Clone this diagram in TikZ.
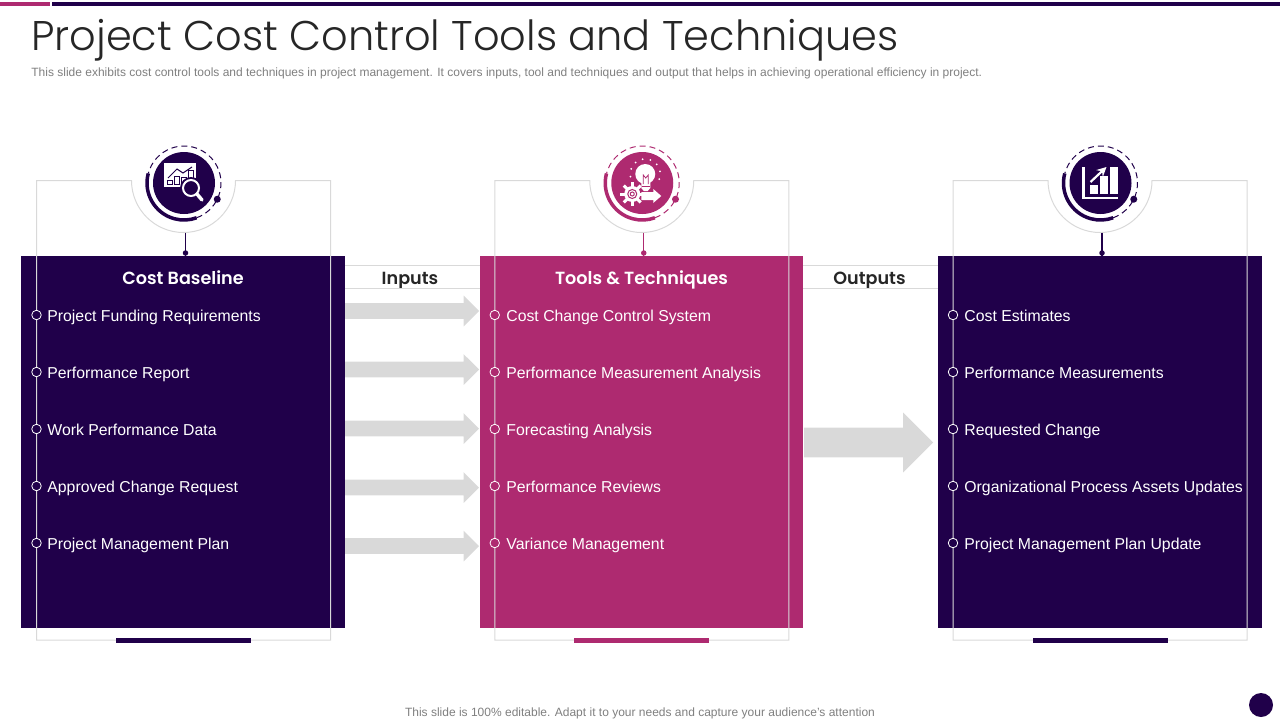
\documentclass[tikz,border=0pt]{standalone}
\usepackage{fontspec}
\setmainfont{Liberation Sans}
\newfontfamily\headfont{Poppins SemiBold}
\newfontfamily\titlefont{Poppins Light}
\usetikzlibrary{shapes.arrows}
\definecolor{darkpanel}{HTML}{20004A}
\definecolor{pinkpanel}{HTML}{AE2A70}
\definecolor{framegray}{HTML}{D9D9D9}
\definecolor{arrowgray}{HTML}{D9D9D9}
\definecolor{titleink}{HTML}{262626}
\definecolor{noteink}{HTML}{7F7F7F}
\tikzset{
  panel/.style={minimum width=162pt,minimum height=186pt,inner sep=0pt,outer sep=0pt},
  head/.style={font=\headfont\fontsize{8.8}{12}\selectfont,anchor=base},
  item/.style={font=\fontsize{7.9}{10}\selectfont,text=white,anchor=base west,inner sep=0pt},
  ring/.style={circle,draw=white,line width=0.4pt,minimum size=4.75pt,inner sep=0pt},
  note/.style={font=\fontsize{6}{8}\selectfont,text=noteink,inner sep=0pt},
  blockarrow/.style={single arrow,fill=arrowgray,anchor=tail,inner sep=0pt,single arrow head indent=0pt,outer sep=0pt},
  smallarrow/.style={blockarrow,inner ysep=3.75pt,single arrow head extend=3.75pt,minimum height=67pt},
  bigarrow/.style={blockarrow,inner ysep=7.25pt,single arrow head extend=7.5pt,minimum height=64.5pt},
  badge/.style={circle,minimum size=31pt,inner sep=0pt},
}
\begin{document}
\begin{tikzpicture}[x=0.5pt,y=0.5pt]
\path[use as bounding box] (0,0) rectangle (1280,720);
\fill[pinkpanel] (0,714) rectangle (50,718);
\fill[darkpanel] (52,714) rectangle (1280,718);
\node[anchor=base west,inner sep=0pt,text=titleink,font=\titlefont\fontsize{20.75}{26}\selectfont] (title) at (31,670) {Project Cost Control Tools and Techniques};
\node[note,anchor=base west] (subtitle) at (31,644) {This slide exhibits cost control tools and techniques in project management. It covers inputs, tool and techniques and output that helps in achieving operational efficiency in project.};
\node[note] (footer) at (640,6.5) {This slide is 100\% editable. Adapt it to your needs and capture your audience's attention};
\fill[darkpanel] (1261,15) circle(12);

\node[panel,fill=darkpanel] (panelA) at (183,278) {};
\node[panel,fill=pinkpanel,minimum width=161.5pt] (panelB) at (641.5,278) {};
\node[panel,fill=darkpanel] (panelC) at (1100,278) {};

\foreach \n/\cx/\col in {A/183.5/darkpanel,B/641.75/pinkpanel,C/1100/darkpanel}{
  \draw[framegray,line width=0.5pt] (\cx-52,539.5) arc[start angle=180,end angle=360,radius=52] -- (\cx+147,539.5) -- (\cx+147,80) -- (\cx-147,80) -- (\cx-147,539.5) -- cycle;
  \fill[\col] (\cx-67.5,77) rectangle (\cx+67.5,82);
  \node[badge,fill=\col] (badge\n) at (\cx+0.5,537) {};
  \draw[\col,line width=1.75pt] (\cx+0.5,537) ++(165:37) arc[start angle=165,end angle=290,radius=37];
  \draw[\col,line width=0.5pt,dash pattern=on 3pt off 2pt] (\cx+0.5,537) ++(-70:37) arc[start angle=-70,end angle=165,radius=37];
  \fill[\col] (\cx+0.5,537) ++(-26:37) circle(3.5);
  \coordinate (stem\n) at (\cx+2,487.5);
  \draw[\col,line width=0.6pt] (stem\n) -- (stem\n |- panel\n.north);
  \fill[\col] (\cx+2,467) circle(2.75);
}

\node[head,text=white] (headA) at (183,436) {Cost Baseline};
\node[head,text=white] (headB) at (641.5,436) {Tools \& Techniques};
\node[head,text=titleink] (inputs) at (410,436) {Inputs};
\node[head,text=titleink] (outputs) at (869.5,436) {Outputs};
\draw[framegray,line width=0.5pt] (panelA.east |- 0,455) -- (panelB.west |- 0,455);
\draw[framegray,line width=0.5pt] (panelA.east |- 0,431.5) -- (panelB.west |- 0,431.5);
\draw[framegray,line width=0.5pt] (panelB.east |- 0,455) -- (panelC.west |- 0,455);
\draw[framegray,line width=0.5pt] (panelB.east |- 0,431.5) -- (panelC.west |- 0,431.5);

\foreach \i/\y in {1/409,2/350.5,3/291.5,4/232.5,5/174}{
  \node[smallarrow] (arrow\i) at (345,\y) {};
}
\node[bigarrow] (arrowOut) at (804,277.5) {};

\foreach \i/\y/\t in {1/399/Project Funding Requirements,2/342/Performance Report,3/285/Work Performance Data,4/228/Approved Change Request,5/171/Project Management Plan}{
  \node[ring,fill=darkpanel] (ringA\i) at (36.5,\y+6) {};
  \node[item] (itemA\i) at (47,\y) {\t};
}
\foreach \i/\y/\t in {1/399/Cost Change Control System,2/342/Performance Measurement Analysis,3/285/Forecasting Analysis,4/228/Performance Reviews,5/171/Variance Management}{
  \node[ring,fill=pinkpanel] (ringB\i) at (494.75,\y+6) {};
  \node[item] (itemB\i) at (506,\y) {\t};
}
\foreach \i/\y/\t in {1/399/Cost Estimates,2/342/Performance Measurements,3/285/Requested Change,4/228/Organizational Process Assets Updates,5/171/Project Management Plan Update}{
  \node[ring,fill=darkpanel] (ringC\i) at (953,\y+6) {};
  \node[item] (itemC\i) at (964,\y) {\t};
}

\begin{scope}[shift={(badgeA.center)}]
\fill[white] (-20,20) rectangle (12,-4);
\foreach \x/\t in {-17/3,-10/7,-3/6,4/13}{
  \draw[darkpanel,line width=0.5pt] (\x,-1) rectangle ++(5,\t+1);
}
\draw[darkpanel,line width=0.5pt] (-16,5) -- (-7,14) -- (-1,10) -- (8,16);
\fill[darkpanel] (7,-5) circle(11);
\draw[white,line width=1pt] (7,-5) circle(8);
\draw[white,line width=1.75pt,line cap=round] (13,-11) -- (18,-17);
\end{scope}

\begin{scope}[shift={(badgeB.center)}]
\fill[white] (3,9) circle(10);
\fill[white] (-1,4) -- (8,4) -- (8,-5) -- (5.5,-8) -- (1.5,-8) -- (-1,-5) -- cycle;
\draw[pinkpanel,line width=0.4pt] (1,-1) -- (1,8) -- (3.5,5) -- (6,8) -- (6,-1);
\draw[pinkpanel,line width=0.4pt] (-1,-3) -- (8,-3);
\foreach \a in {-20,10,...,200}{
  \fill[white] (3,9) ++(\a:15) circle(1);
}
\foreach \a in {0,45,...,315}{
  \draw[white,line width=1.5pt] (-10,-11) ++(\a:7) -- ++(\a:5);
}
\fill[white] (-10,-11) circle(8);
\draw[pinkpanel,line width=0.5pt] (-10,-11) circle(4.5);
\draw[pinkpanel,line width=0.5pt] (-10,-11) circle(2);
\fill[white] (-1,-9) -- (11,-9) -- (11,-6) -- (19,-13) -- (11,-20) -- (11,-17) -- (-1,-17) -- cycle;
\end{scope}

\begin{scope}[shift={(badgeC.center)}]
\draw[white,line width=1.1pt] (-17,16) -- (-17,-15) -- (17,-15);
\fill[white] (-11,-2) rectangle (-3,-11);
\fill[white] (-1,7) rectangle (7,-11);
\fill[white] (9,16) rectangle (17,-11);
\draw[white,line width=1.1pt,-stealth] (-10,1) -- (6,16);
\end{scope}
\end{tikzpicture}
\end{document}
